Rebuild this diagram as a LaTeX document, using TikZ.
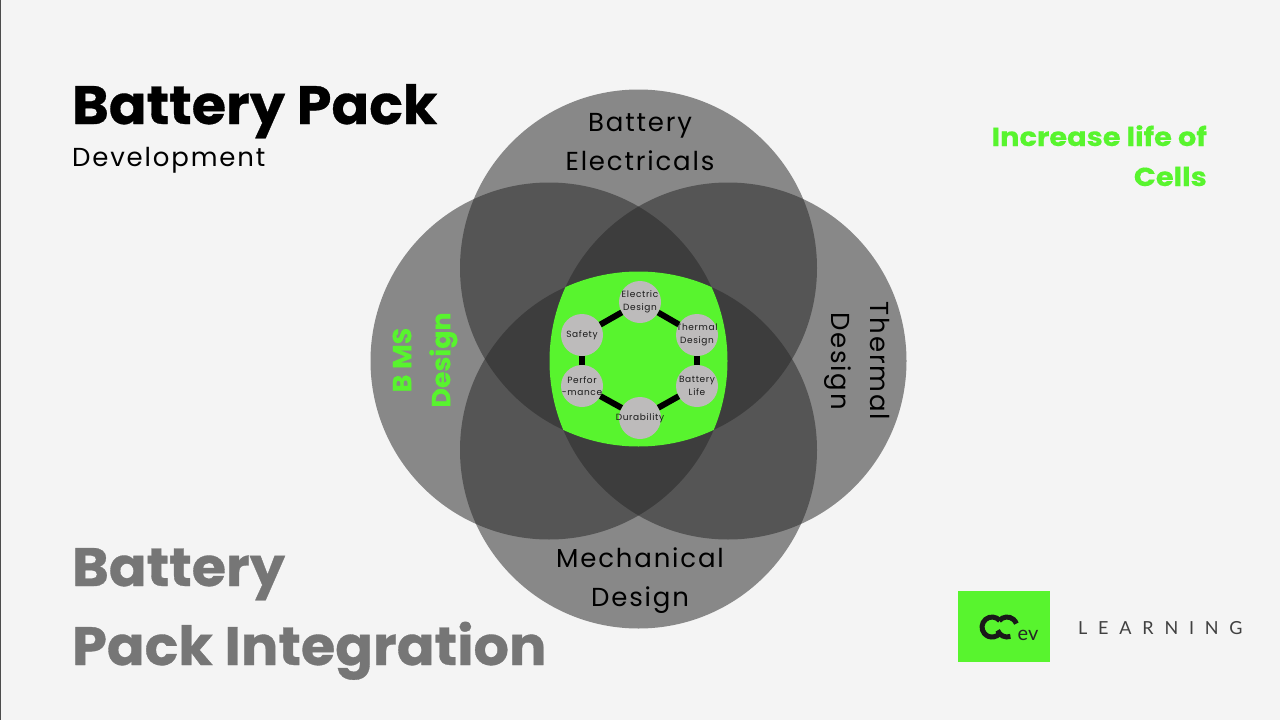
\documentclass[tikz,border=0pt]{standalone}
\usepackage{fontspec}
\setmainfont{Poppins}[LetterSpace=7]
\newfontfamily\lato{Lato}
\newfontfamily\bigf{Poppins Bold}[FakeStretch=1.03,FakeBold=0.6]
\newfontfamily\grnf{Poppins Bold}[FakeStretch=1.11,FakeBold=0.3]
\definecolor{bgc}{HTML}{F4F4F4}
\definecolor{grn}{HTML}{58F42E}
\definecolor{ttl}{HTML}{767676}
\definecolor{small}{HTML}{BDBBBB}
\definecolor{pet}{RGB}{41,41,41}
\tikzset{x=1pt,y=-1pt,
 petal/.style={fill=pet,fill opacity=0.53},
 txt/.style={font=\fontsize{26}{39}\selectfont,align=center,inner sep=0,text=black},
 inner/.style={circle,fill=small,minimum size=42pt,inner sep=0,outer sep=0,
   label={[font=\fontsize{9}{12.5}\selectfont,align=center,inner sep=0,text=black!90]center:#1}},
 link/.style={line width=6pt,black},
 logo/.style={line width=5pt,black!90},
 big/.style={anchor=base west,inner sep=0,font=\fontsize{54}{60}\selectfont\bigf},
 grntxt/.style={anchor=base east,inner sep=0,text=grn,font=\fontsize{26}{30}\selectfont\grnf},
}
\begin{document}
\begin{tikzpicture}
\useasboundingbox (0,0) rectangle (1280,720);
\fill[bgc] (0,0) rectangle (1280,720);
\fill[black!70] (0,0) rectangle (1.2,720);
\def\R{178.5}
\fill[petal] (638.5,268) circle (\R);
\fill[petal] (549,361) circle (\R);
\fill[petal] (728,361) circle (\R);
\fill[petal] (638.5,450) circle (\R);
\begin{scope}
\clip (638.5,268) circle (\R);
\clip (549,361) circle (\R);
\clip (728,361) circle (\R);
\clip (638.5,450) circle (\R);
\fill[grn] (500,200) rectangle (780,520);
\end{scope}
\node[inner={Electric\\Design}] (el) at (640,302) {};
\node[inner={Thermal\\Design}] (th) at (697,335) {};
\node[inner={Battery\\Life}] (ba) at (697,386) {};
\node[inner={Durability}] (du) at (640,418) {};
\node[inner={Perfor\\-mance}] (pe) at (582,386) {};
\node[inner={Safety}] (sa) at (582,335) {};
\draw[link] (el)--(th);
\draw[link] (th)--(ba);
\draw[link] (ba)--(du);
\draw[link] (du)--(pe);
\draw[link] (pe)--(sa);
\draw[link] (sa)--(el);
\node[txt] (t1) at (640,142) {Battery\\Electricals};
\node[txt] (t2) at (640,581) {Mechanical\\Design};
\node[txt,rotate=-90] (t3) at (857,361) {Thermal\\Design};
\node[txt,rotate=90,text=grn,font=\fontsize{26}{39}\selectfont\bigf] (t4) at (425,360) {B MS\\Design};
\node[big] (a) at (72,124) {Battery Pack};
\node[anchor=base west,inner sep=0,font=\fontsize{26}{30}\selectfont] (b) at (72,166) {Development};
\node[big,text=ttl] (c) at (72,586) {Battery};
\node[big,text=ttl] (d) at (72,665) {Pack Integration};
\node[grntxt] (e) at (1207,146) {Increase life of};
\node[grntxt] (f) at (1207,186) {Cells};
\fill[grn] (958,591) rectangle (1050,662);
\draw[logo] (999.7,620.6) arc (-40:-320:10);
\draw[logo] (999.3,620.6) arc (220:340:10);
\draw[logo] (997.6,630.4) arc (160:70:10);
\node[anchor=base,inner sep=0,text=black!85,font=\fontsize{20}{20}\selectfont\lato] (g) at (1028,640) {ev};
\node[anchor=base west,inner sep=0,text=black!75,font=\fontsize{18}{20}\selectfont\lato\addfontfeature{LetterSpace=60}] (h) at (1078,634) {LEARNING};
\end{tikzpicture}
\end{document}
